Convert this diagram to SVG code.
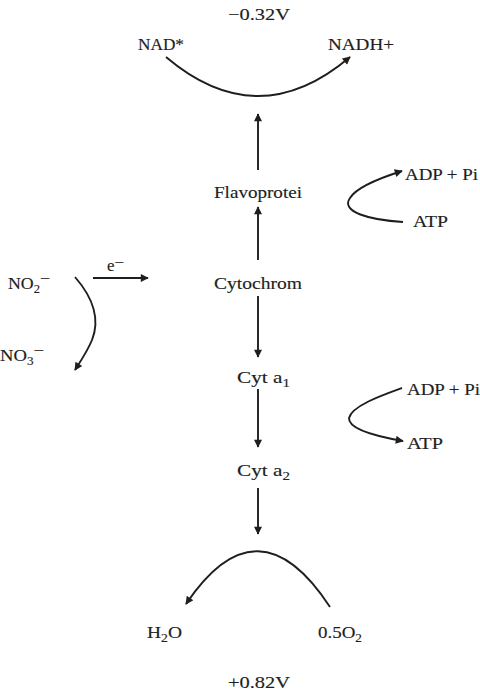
<svg xmlns="http://www.w3.org/2000/svg" width="480" height="697" viewBox="0 0 480 697">
<style>
text{font-family:"Liberation Serif","Times New Roman",serif;font-size:17px;fill:#1e1e1e;stroke:#1e1e1e;stroke-width:0.15}
.c{text-anchor:middle}
.sub{font-size:12px}
.con{fill:none;stroke:#1e1e1e;stroke-width:1.9}
</style>
<defs>
<marker id="ah" viewBox="0 0 10 10" refX="9" refY="5" markerWidth="11" markerHeight="8" markerUnits="userSpaceOnUse" orient="auto">
<path d="M0,0 L10,5 L0,10 Z" fill="#1e1e1e"/>
</marker>
</defs>
<rect width="480" height="697" fill="#fff"/>
<g id="connectors">
<path class="con" d="M166,57 Q258,135 350,57" marker-end="url(#ah)"/>
<path class="con" d="M258,170 L258,114" marker-end="url(#ah)"/>
<path class="con" d="M258,260 L258,207" marker-end="url(#ah)"/>
<path class="con" d="M258,296 L258,357" marker-end="url(#ah)"/>
<path class="con" d="M258,389 L258,447" marker-end="url(#ah)"/>
<path class="con" d="M258,488 L258,534" marker-end="url(#ah)"/>
<path class="con" d="M330,607 Q258,497 186,604" marker-end="url(#ah)"/>
<path class="con" d="M403,222 C370,220 340,212 350,198 C356,188 380,178 402,171" marker-end="url(#ah)"/>
<path class="con" d="M402,388 C380,396 352,406 349,418 C348,430 380,437 403,441" marker-end="url(#ah)"/>
<path class="con" d="M93,278 L148,278" marker-end="url(#ah)"/>
<path class="con" d="M75,277 C95,300 100,320 92,340 C87,352 80,362 75,370" marker-end="url(#ah)"/>
</g>
<g id="n_top_v"><text class="c" x="259" y="20" textLength="62" lengthAdjust="spacingAndGlyphs">−0.32V</text></g>
<g id="n_nad"><text x="138" y="50" textLength="46" lengthAdjust="spacingAndGlyphs">NAD*</text></g>
<g id="n_nadh"><text x="328" y="50" textLength="66" lengthAdjust="spacingAndGlyphs">NADH+</text></g>
<g id="n_flavo"><text class="c" x="258" y="198" textLength="88" lengthAdjust="spacingAndGlyphs">Flavoprotei</text></g>
<g id="n_cytochrom"><text class="c" x="258" y="289" textLength="88" lengthAdjust="spacingAndGlyphs">Cytochrom</text></g>
<g id="n_cyta1"><text x="237" y="383" textLength="53" lengthAdjust="spacingAndGlyphs">Cyt a<tspan class="sub" dy="4">1</tspan></text></g>
<g id="n_cyta2"><text x="237" y="476" textLength="53" lengthAdjust="spacingAndGlyphs">Cyt a<tspan class="sub" dy="4">2</tspan></text></g>
<g id="n_adp1"><text x="405" y="180" textLength="73" lengthAdjust="spacingAndGlyphs">ADP + Pi</text></g>
<g id="n_atp1"><text x="413" y="227" textLength="35" lengthAdjust="spacingAndGlyphs">ATP</text></g>
<g id="n_adp2"><text x="407" y="395" textLength="73" lengthAdjust="spacingAndGlyphs">ADP + Pi</text></g>
<g id="n_atp2"><text x="407" y="449" textLength="36" lengthAdjust="spacingAndGlyphs">ATP</text></g>
<g id="n_no2"><text x="8" y="289" textLength="42" lengthAdjust="spacingAndGlyphs">NO<tspan class="sub" dy="4">2</tspan><tspan dy="-9">−</tspan></text></g>
<g id="n_e"><text x="107" y="271" textLength="17" lengthAdjust="spacingAndGlyphs">e<tspan dy="-3">−</tspan></text></g>
<g id="n_no3"><text x="0" y="361" textLength="44" lengthAdjust="spacingAndGlyphs">NO<tspan class="sub" dy="4">3</tspan><tspan dy="-9">−</tspan></text></g>
<g id="n_h2o"><text x="147" y="638" textLength="35" lengthAdjust="spacingAndGlyphs">H<tspan class="sub" dy="4">2</tspan><tspan dy="-4">O</tspan></text></g>
<g id="n_o2"><text x="318" y="638" textLength="44" lengthAdjust="spacingAndGlyphs">0.5O<tspan class="sub" dy="4">2</tspan></text></g>
<g id="n_bot_v"><text class="c" x="259" y="688" textLength="62" lengthAdjust="spacingAndGlyphs">+0.82V</text></g>
</svg>
